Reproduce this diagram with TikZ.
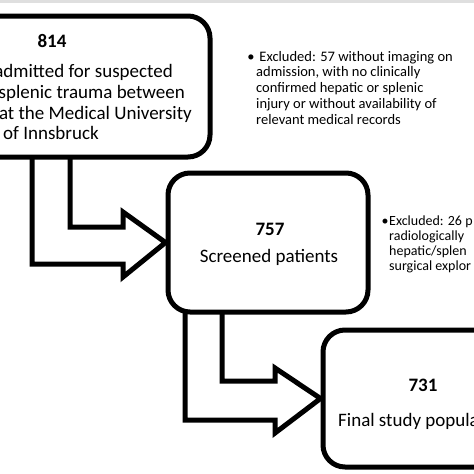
\documentclass[tikz,border=0pt]{standalone}
\usepackage{fontspec}
\setmainfont{Carlito}
\tikzset{
  stagebox/.style={draw, line width=5pt, rounded corners=22pt, inner sep=0pt},
  bendarrow/.style={draw, line width=5pt, line join=miter},
  boxtext/.style={inner sep=0pt, font=\fontsize{19}{21}\selectfont},
  boxnum/.style={inner sep=0pt, anchor=base, font=\fontsize{19}{21}\selectfont\bfseries},
  exclnote/.style={inner sep=0pt, anchor=base west, align=left},
}

\begin{document}
\begin{tikzpicture}[x=1pt,y=-1pt]
  \useasboundingbox (0,0) rectangle (474,474);
  \clip (0,0) rectangle (474,474);
  \fill[gray!25] (0,0) rectangle (474,2.5);

  % stage 1
  \node[stagebox, minimum width=314pt, minimum height=141pt] (b1) at (53,86.5) {};
  \node[boxnum] (n814) at (52,47) {814};
  \node[boxtext, anchor=base east] (t1a) at (173,77) {admitted for suspected};
  \node[boxtext, anchor=base east] (t1b) at (185,98) {splenic trauma between};
  \node[boxtext, anchor=base east] (t1c) at (192,119) {at the Medical University};
  \node[boxtext, anchor=base] (t1d) at (51,139) {of Innsbruck};

  % first exclusion (base = last line)
  \node[inner sep=0pt, anchor=base, font=\fontsize{14.5}{15.75}\selectfont] (bul57) at (251,61) {\textbullet};
  \node[exclnote, font=\fontsize{14.5}{15.75}\selectfont] (ex57) at (256,124)
    {\ Excluded: 57 without imaging on\\admission, with no clinically\\confirmed hepatic or splenic\\injury or without availability of\\relevant medical records};

  % stage 2
  \node[stagebox, minimum width=200pt, minimum height=139pt] (b2) at (268,242.5) {};
  \node[boxnum] (n757) at (270,235) {757};
  \node[boxtext, anchor=base] (t2) at (269,262) {Screened patients};

  % second exclusion
  \node[inner sep=0pt, anchor=base, font=\fontsize{14}{15}\selectfont] (bul26) at (385,225) {\textbullet};
  \node[exclnote, font=\fontsize{14}{15}\selectfont] (ex26) at (389,270)
    {Excluded: 26 p\\radiologically\\hepatic/splen\\surgical explor};

  % stage 3
  \node[stagebox, minimum width=200pt, minimum height=137pt] (b3) at (423,398.5) {};
  \node[boxnum] (n731) at (423,391) {731};
  \node[boxtext, anchor=base west] (t3) at (338,426) {Final study popula};

  % arrows
  \draw[bendarrow] (32,157) |- (123,264) -- (123,277) -- (b2.west) -- (123,212) -- (123,227) -| (70,157);
  \draw[bendarrow] (185,312) |- (275,420) -- (275,433) -- (b3.west) -- (275,368) -- (275,381) -| (222,312);
\end{tikzpicture}
\end{document}
